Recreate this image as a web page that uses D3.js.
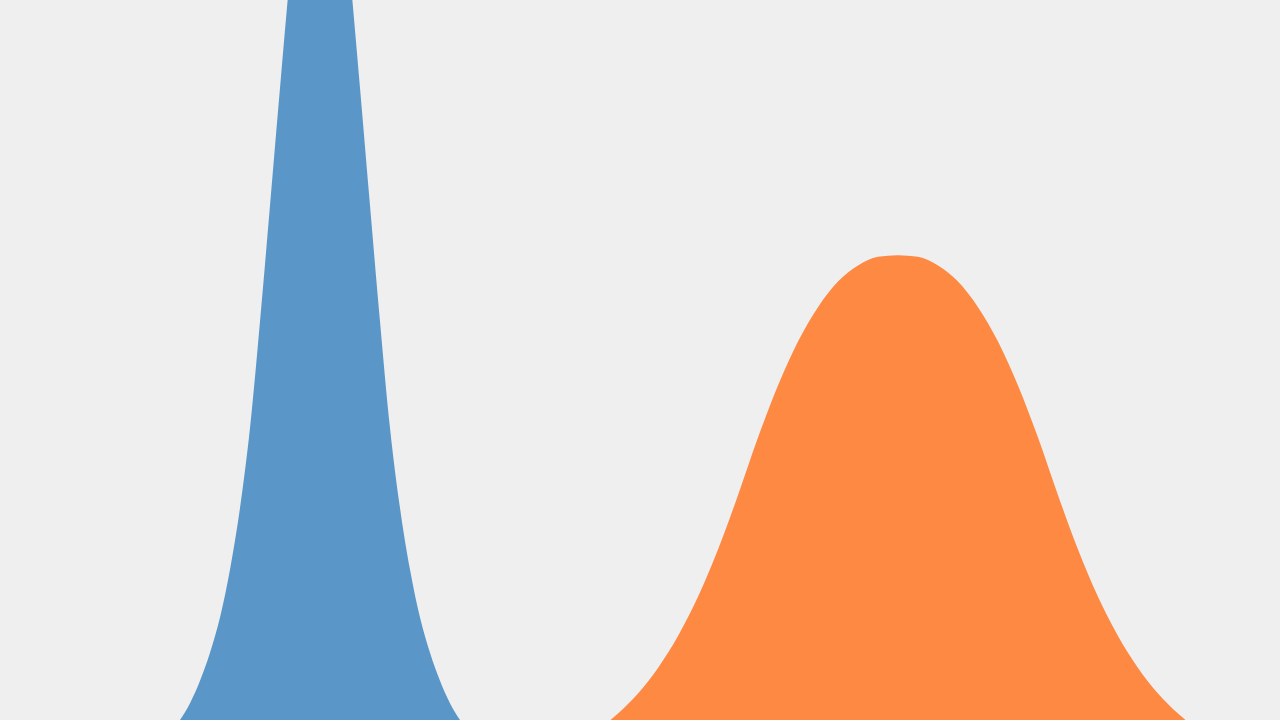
<!DOCTYPE html>
<html>
<head>
<meta charset="utf-8">
<script src="https://cdn.jsdelivr.net/npm/d3@7"></script>
<style>
  html, body { margin: 0; padding: 0; background: #efefef; overflow: hidden; }
  svg { display: block; }
</style>
</head>
<body>
<svg class="density"></svg>
<script>
/* two density curves, values at even x steps */
var blueX = [0.875, 1, 1.125, 1.25, 1.375, 1.5, 1.625, 1.75, 1.875, 2, 2.125, 2.25, 2.375, 2.5, 2.625, 2.75, 2.875,
             3, 3.125, 3.25, 3.375, 3.5, 3.625, 3.75, 3.875, 4, 4.125, 4.25, 4.375, 4.5, 4.625, 4.75, 4.875,
             5, 5.125, 5.25, 5.375, 5.5, 5.625, 5.75, 5.875, 6, 6.125, 6.25, 6.375, 6.5, 6.625, 6.75, 6.875, 7, 7.125];
var blueY = [0, 0.003, 0.006, 0.011, 0.018, 0.025, 0.034, 0.044, 0.055, 0.068, 0.083, 0.1, 0.121, 0.149, 0.184, 0.228, 0.288,
             0.365, 0.465, 0.598, 0.743, 0.89, 1.031, 1.144, 1.203, 1.219, 1.203, 1.144, 1.031, 0.89, 0.743, 0.598, 0.465,
             0.365, 0.288, 0.228, 0.184, 0.149, 0.121, 0.1, 0.083, 0.068, 0.055, 0.044, 0.034, 0.025, 0.018, 0.011, 0.006, 0.003, 0];

var orangeX = [4.725, 4.975, 5.225, 5.475, 5.725, 5.975, 6.225, 6.475, 6.725, 6.975, 7.225, 7.475, 7.725, 7.975, 8.225,
               8.475, 8.725, 8.975, 9.225, 9.475, 9.725, 9.975, 10.225, 10.475, 10.725, 10.975, 11.225, 11.475, 11.725,
               11.975, 12.225, 12.475, 12.725, 12.975, 13.225, 13.475, 13.725, 13.975, 14.225, 14.475, 14.725, 14.975,
               15.225, 15.475, 15.725, 15.975, 16.225, 16.475, 16.725, 16.975, 17.225, 17.475, 17.725];
var orangeY = [0, 0.0025, 0.005, 0.009, 0.014, 0.02, 0.028, 0.036, 0.046, 0.058, 0.071, 0.088, 0.108, 0.133, 0.165,
               0.205, 0.254, 0.313, 0.381, 0.453, 0.518, 0.573, 0.616, 0.648, 0.668, 0.679, 0.681, 0.679, 0.668,
               0.648, 0.616, 0.573, 0.518, 0.453, 0.381, 0.313, 0.254, 0.205, 0.165, 0.133, 0.108, 0.088,
               0.071, 0.058, 0.046, 0.036, 0.028, 0.02, 0.014, 0.009, 0.005, 0.0025, 0];

var width = 1280,
    height = 720;

var x = d3.scaleLinear()
    .domain([0, 16])
    .range([0, width]);

// baseline sits below the visible frame, so the tails run off the bottom
var y = d3.scaleLinear()
    .domain([0, 1])
    .range([800, 0]);

var svg = d3.select(".density")
    .attr("width", width)
    .attr("height", height);

svg.append("rect")
    .attr("width", width)
    .attr("height", height)
    .attr("fill", "#efefef");

var area = d3.area()
    .x(function(d) { return x(d[0]); })
    .y0(y(0))
    .y1(function(d) { return y(d[1]); })
    .curve(d3.curveMonotoneX);

var series = [
  {name: "blue", color: "#5a97c8", pts: d3.zip(blueX, blueY)},
  {name: "orange", color: "#fd8943", pts: d3.zip(orangeX, orangeY)}
];

svg.selectAll("path.dens")
    .data(series)
  .enter().append("path")
    .attr("class", "dens")
    .attr("fill", function(d) { return d.color; })
    .attr("d", function(d) { return area(d.pts); });
</script>
</body>
</html>
